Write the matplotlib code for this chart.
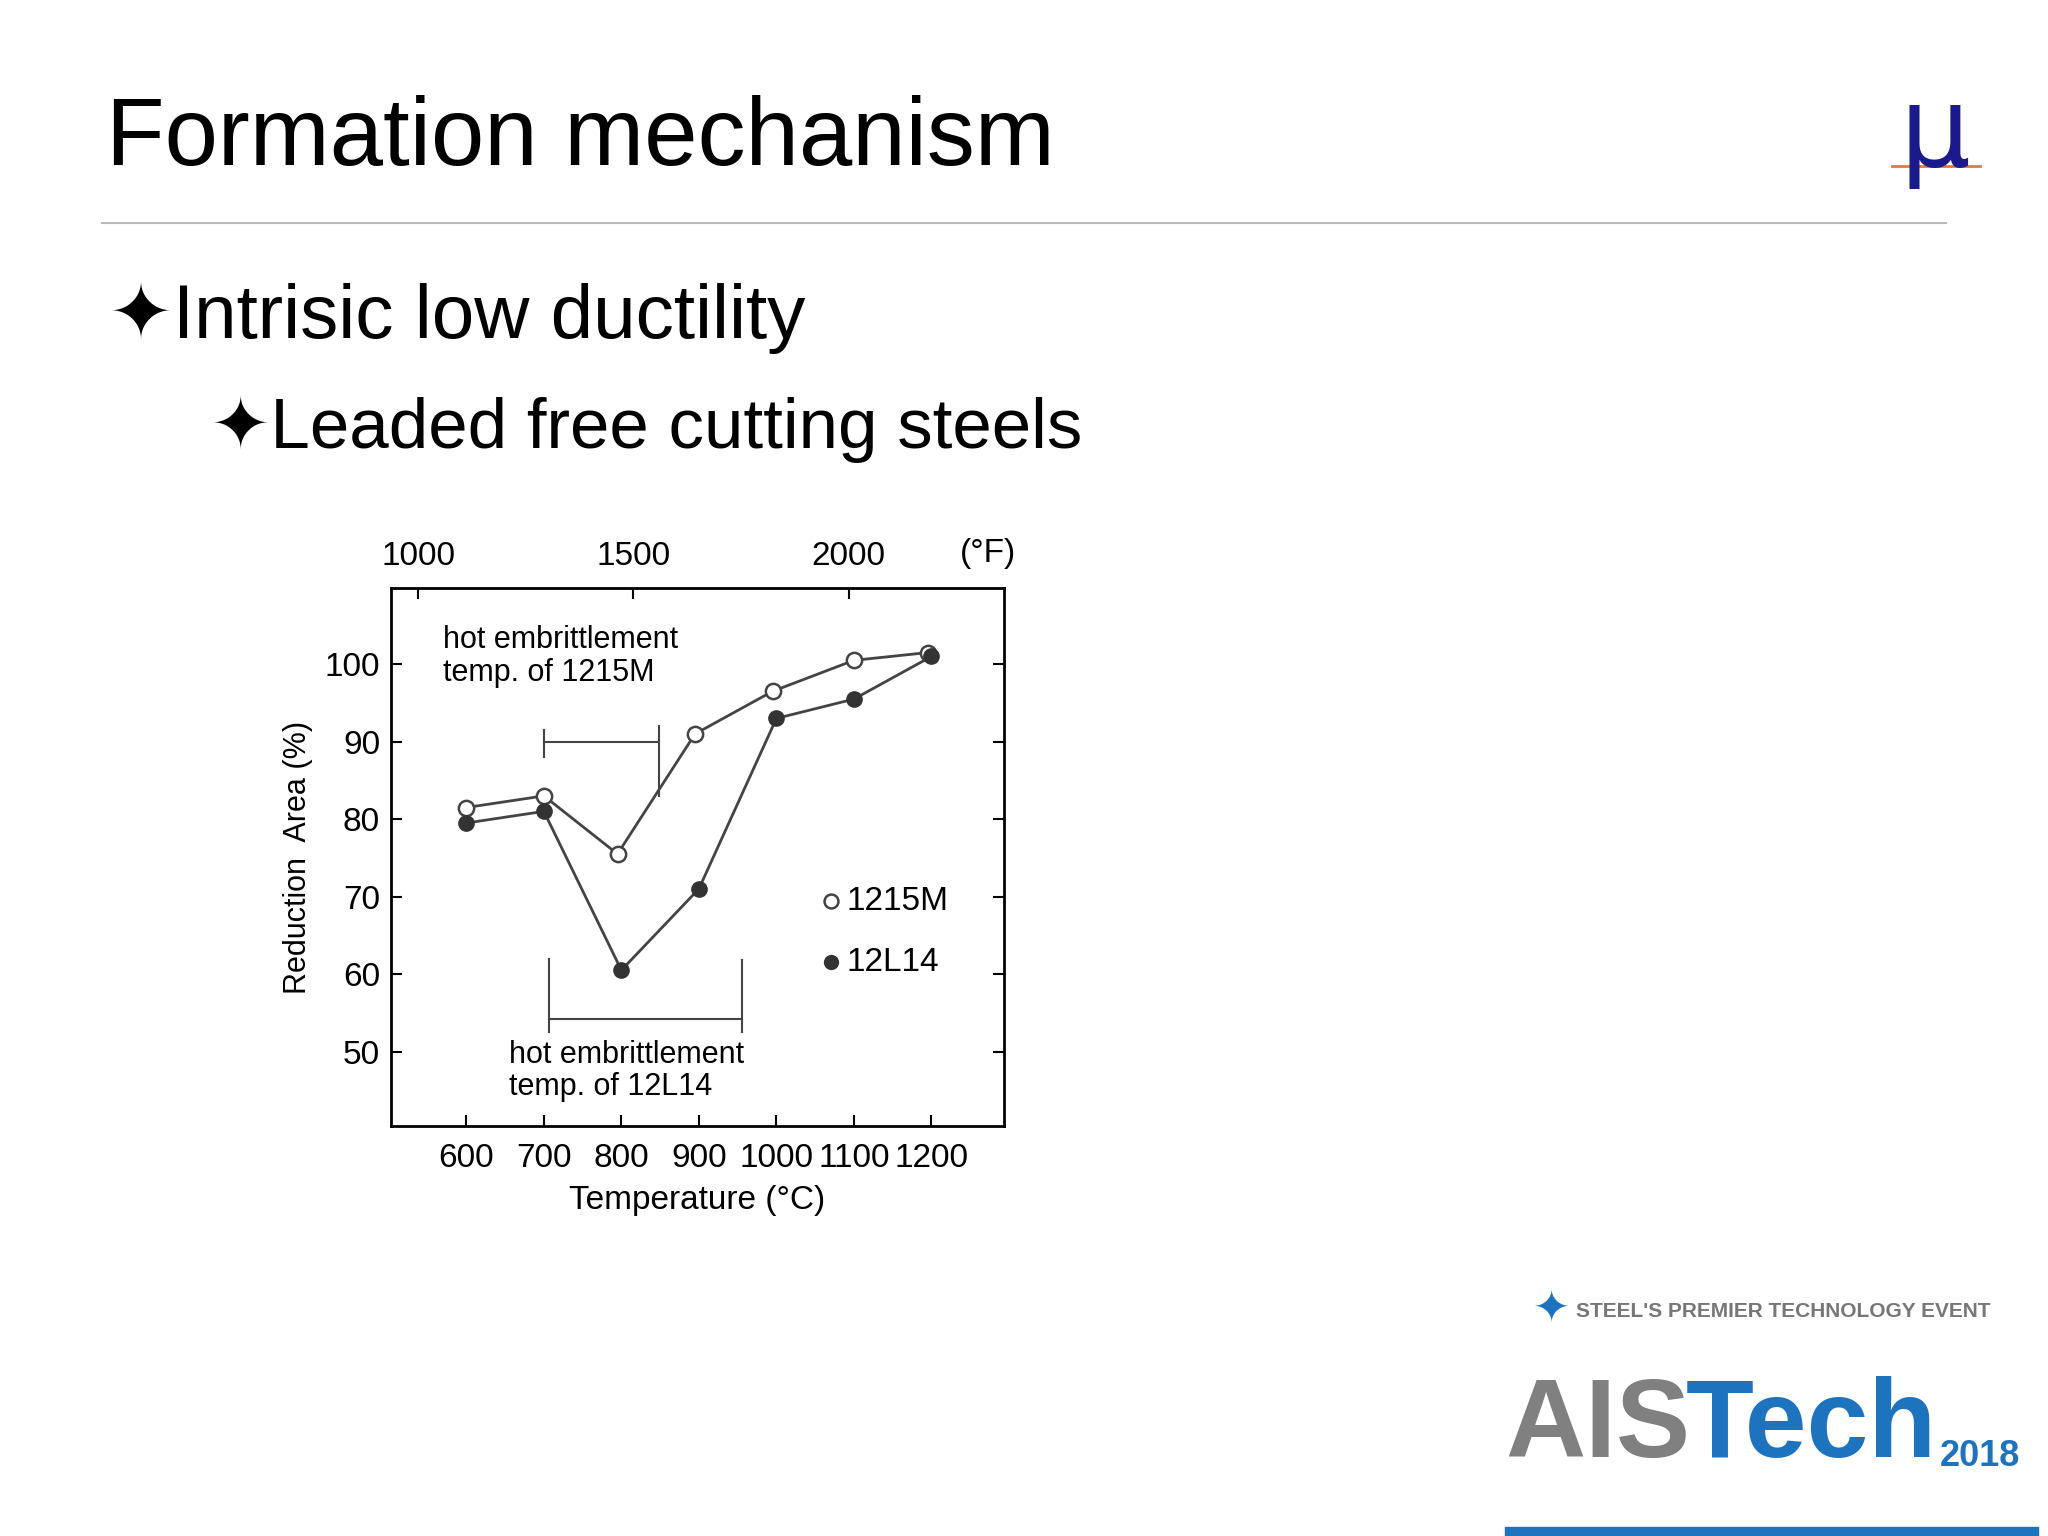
import matplotlib
matplotlib.use("Agg")
import matplotlib.pyplot as plt

temp_1215M = [600, 700, 795, 895, 995, 1100, 1195]
ra_1215M = [81.5, 83, 75.5, 91, 96.5, 100.5, 101.5]
temp_12L14 = [600, 700, 800, 900, 1000, 1100, 1200]
ra_12L14 = [79.5, 81, 60.5, 71, 93, 95.5, 101]
x_ticks = [600, 700, 800, 900, 1000, 1100, 1200]
y_ticks = [50, 60, 70, 80, 90, 100]
f_ticks = [1000, 1500, 2000]

plt.rcParams['font.family'] = ['Liberation Sans', 'DejaVu Sans']
fig = plt.figure(figsize=(20.48, 15.36), dpi=100)

# slide decorations
fig.text(0.052, 0.909, "Formation mechanism", fontsize=69, va='center', ha='left')
fig.add_artist(plt.Line2D([0.05, 0.95], [0.855, 0.855], color='#bbbbbb', lw=1.5))
fig.text(0.053, 0.793, "✦Intrisic low ductility", fontsize=55, va='center', ha='left')
fig.text(0.103, 0.721, "✦Leaded free cutting steels", fontsize=51, va='center', ha='left')
fig.text(0.945, 0.912, "μ", fontsize=80, color='#1a1a8c', ha='center', va='center', family=['DejaVu Sans'])
fig.add_artist(plt.Line2D([0.924, 0.967], [0.892, 0.892], color='#e07a3a', lw=2))
fig.text(0.972, 0.146, "STEEL'S PREMIER TECHNOLOGY EVENT", fontsize=15, color='#777777', ha='right', va='center', weight='bold')
fig.text(0.757, 0.148, "✦", fontsize=32, color='#1e73be', ha='center', va='center', family=['DejaVu Sans'])
fig.text(0.735, 0.07, "AIS", fontsize=80, color='#808080', ha='left', va='center', weight='bold')
fig.text(0.823, 0.07, "Tech", fontsize=80, color='#1e73be', ha='left', va='center', weight='bold')
fig.text(0.947, 0.052, "2018", fontsize=26, color='#1e73be', ha='left', va='center', weight='bold')
fig.add_artist(plt.Rectangle((0.735, 0.0), 0.26, 0.006, color='#1e73be', transform=fig.transFigure))

ax = fig.add_axes([0.191, 0.267, 0.299, 0.350])
ax.plot(temp_1215M, ra_1215M, '-', color='#444444', lw=2, marker='o', ms=11,
        mfc='white', mec='#444444', mew=1.8, zorder=3)
ax.plot(temp_12L14, ra_12L14, '-', color='#444444', lw=2, marker='o', ms=11,
        mfc='#333333', mec='#333333', zorder=3)
ax.set_xlim(503, 1293)
ax.set_ylim(40.4, 109.8)
ax.set_xticks(x_ticks)
ax.set_yticks(y_ticks)
ax.tick_params(labelsize=24, direction='in', length=8, width=1.5, right=True, pad=8)
ax.tick_params(axis='x', pad=12)
ax.set_xlabel("Temperature (°C)", fontsize=24, labelpad=8)
ax.set_ylabel("Reduction  Area (%)", fontsize=22, labelpad=8)
for s in ax.spines.values():
    s.set_linewidth(2)

sec = ax.secondary_xaxis('top', functions=(lambda c: c * 9 / 5 + 32, lambda f: (f - 32) * 5 / 9))
sec.set_xticks(f_ticks)
sec.tick_params(labelsize=24, direction='in', length=8, width=1.5, pad=12)
ax.text(1.02, 1.065, "(°F)", transform=ax.transAxes, fontsize=24, ha='right', va='center')

# brackets
k = dict(color='#444444', lw=1.5)
ax.plot([700, 848], [90, 90], **k)
ax.plot([700, 700], [88, 91.5], **k)
ax.plot([848, 848], [83, 92], **k)
ax.plot([707, 955], [54.2, 54.2], **k)
ax.plot([707, 707], [52.5, 62], **k)
ax.plot([955, 955], [52.5, 61.8], **k)
ax.text(570, 101, "hot embrittlement\ntemp. of 1215M", fontsize=22, va='center', linespacing=1.1)
ax.text(655, 47.5, "hot embrittlement\ntemp. of 12L14", fontsize=22, va='center', linespacing=1.1)
ax.plot([1070], [69.4], 'o', ms=10, mfc='white', mec='#444444', mew=1.8)
ax.plot([1070], [61.5], 'o', ms=10, mfc='#333333', mec='#333333')
ax.text(1090, 69.4, "1215M", fontsize=24, va='center')
ax.text(1090, 61.5, "12L14", fontsize=24, va='center')

fig.savefig("out.png", dpi=100)
